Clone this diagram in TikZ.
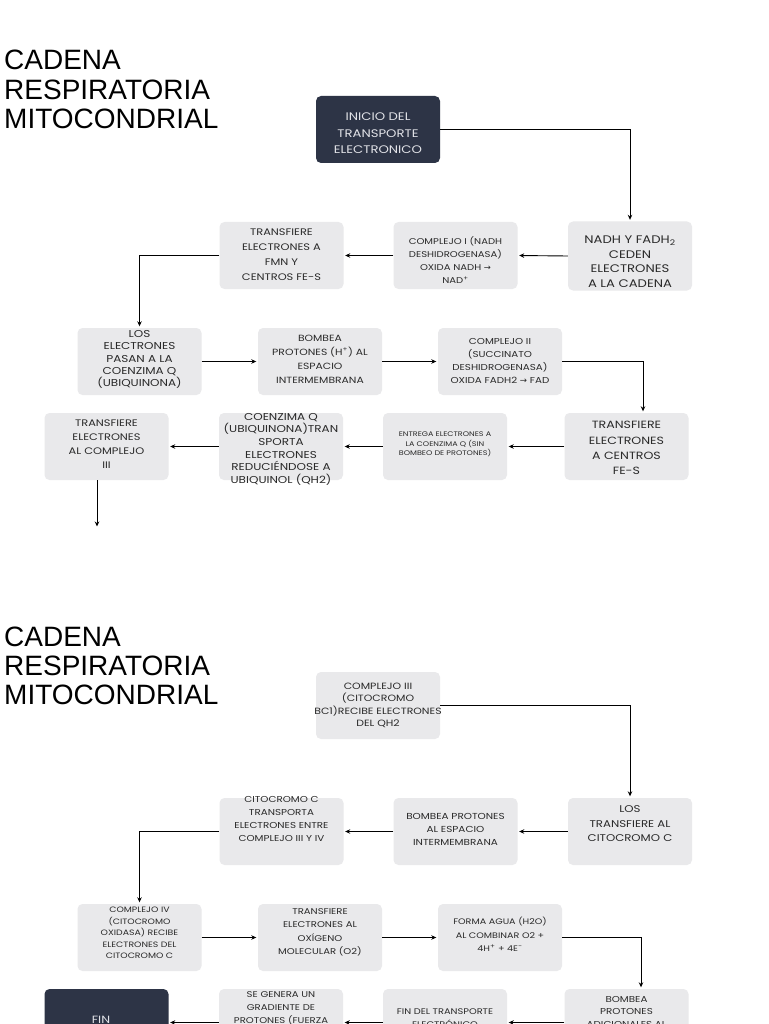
\documentclass[tikz,border=0pt]{standalone}
\usepackage{fontspec}
\setmainfont{Poppins}[FakeStretch=1.2]
\newfontfamily\ttlfont{Liberation Sans}
\newfontfamily\dvfont{DejaVu Sans}
\usetikzlibrary{arrows.meta}
\definecolor{boxgray}{HTML}{E9E9EB}
\definecolor{darkbox}{HTML}{2D3446}
\definecolor{txtgray}{HTML}{2A2A2A}
\definecolor{lighttxt}{HTML}{E2E3E8}
\newcommand\fs[2]{\fontsize{#1}{#2}\selectfont}
\newcommand\rarr{{\dvfont →}}
\newcommand\sps[1]{\textsuperscript{#1}}
\newcommand\sbs[1]{\textsubscript{#1}}
% style, name, box position, text options, text position, text
\newcommand\mybox[6]{\node[#1] (#2) at (#3) {}; \node[txt,#4] (#2t) at (#5) {#6};}
\begin{document}
\begin{tikzpicture}[x=1pt,y=-1pt,
  gbox/.style={fill=boxgray, rounded corners=5pt, minimum width=124pt, minimum height=67pt, inner sep=0pt},
  dbox/.style={gbox, fill=darkbox},
  txt/.style={align=center, inner sep=0pt, text=txtgray},
  arr/.style={-{Stealth[length=5pt,width=4.5pt]}, line width=0.9pt, shorten >=1.5pt},
  ttl/.style={anchor=base west, inner sep=0pt, font=\ttlfont\fs{28}{30}}
]
\fill[white] (0,0) rectangle (768,1024);
\useasboundingbox (0,0) rectangle (768,1024);
\clip (0,0) rectangle (768,1024);

% ---------- top section ----------
\node[ttl] (t1) at (4,70) {CADENA};
\node[ttl] (t2) at (4,99.5) {RESPIRATORIA};
\node[ttl] (t3) at (4,128.5) {MITOCONDRIAL};

\mybox{dbox}{inicio}{378,129.5}{text=lighttxt,font=\fs{11}{16.7}}{378,133.3}{INICIO DEL\\TRANSPORTE\\ELECTRONICO}
\mybox{gbox}{a}{281.5,255.5}{font=\fs{9.5}{15}}{281.5,254.2}{TRANSFIERE\\ELECTRONES A\\FMN Y\\CENTROS FE-S}
\mybox{gbox}{b}{455.5,255.5}{font=\fs{8.4}{13}}{455.5,259.7}{COMPLEJO I (NADH\\DESHIDROGENASA)\\OXIDA NADH \rarr\\NAD\sps{+}}
\node[gbox, minimum height=69pt] (c) at (630,256) {};
\node[txt,font=\fs{11}{14.5}] (ct) at (630,261.5) {NADH Y FADH\sbs{2}\\CEDEN\\ELECTRONES\\A LA CADENA};

\mybox{gbox}{d}{139.5,361.5}{font=\fs{10}{12.3}}{139.5,359.5}{LOS\\ELECTRONES\\PASAN A LA\\COENZIMA Q\\(UBIQUINONA)}
\mybox{gbox}{e}{320,361.5}{font=\fs{9}{14}}{320,359.5}{BOMBEA\\PROTONES (H\sps{+}) AL\\ESPACIO\\INTERMEMBRANA}
\mybox{gbox}{f}{500,361.5}{font=\fs{8.6}{12.8}}{500,360.8}{COMPLEJO II\\(SUCCINATO\\DESHIDROGENASA)\\OXIDA FADH2 \rarr{} FAD}

\mybox{gbox}{g}{106.5,446.5}{font=\fs{9.5}{14}}{106.5,444}{TRANSFIERE\\ELECTRONES\\AL COMPLEJO\\III}
\mybox{gbox}{h}{281,446.5}{font=\fs{10}{12.7}}{281,449.3}{COENZIMA Q\\(UBIQUINONA)TRAN\\SPORTA\\ELECTRONES\\REDUCIÉNDOSE A\\UBIQUINOL (QH2)}
\mybox{gbox}{i}{445,446.5}{font=\fs{6.7}{9.3}}{445,444.3}{ENTREGA ELECTRONES A\\LA COENZIMA Q (SIN\\BOMBEO DE PROTONES)}
\mybox{gbox}{j}{626.5,446.5}{font=\fs{10.5}{15.3}}{626.5,448}{TRANSFIERE\\ELECTRONES\\A CENTROS\\FE-S}

\draw[arr] (inicio.east) -| (c.north);
\draw[arr] (c.west) -- (b.east);
\draw[arr] (b.west) -- (a.east);
\draw[arr] (a.west) -| (d.north);
\draw[arr] (d.east) -- (e.west);
\draw[arr] (e.east) -- (f.west);
\draw[arr] (f.east) -| ([xshift=16.5pt]j.north);
\draw[arr] (j.west) -- (i.east);
\draw[arr] (i.west) -- (h.east);
\draw[arr] (h.west) -- (g.east);
\coordinate (gout) at (97,528);
\draw[arr] (g.south -| gout) -- (gout);

% ---------- bottom section ----------
\node[ttl] (b1) at (4,646) {CADENA};
\node[ttl] (b2) at (4,675.5) {RESPIRATORIA};
\node[ttl] (b3) at (4,704.5) {MITOCONDRIAL};

\mybox{gbox}{k}{378,705.5}{font=\fs{9.1}{12.5}}{378,705.5}{COMPLEJO III\\(CITOCROMO\\BC1)RECIBE ELECTRONES\\DEL QH2}
\mybox{gbox}{l}{281.5,831.5}{font=\fs{8.6}{12.8}}{281.5,819}{CITOCROMO C\\TRANSPORTA\\ELECTRONES ENTRE\\COMPLEJO III Y IV}
\mybox{gbox}{m}{455.5,831.5}{font=\fs{8.7}{13}}{455.5,829.7}{BOMBEA PROTONES\\AL ESPACIO\\INTERMEMBRANA}
\mybox{gbox}{n}{630,831.5}{font=\fs{9.8}{14.5}}{630,824}{LOS\\TRANSFIERE AL\\CITOCROMO C}

\mybox{gbox}{o}{139.5,937.5}{font=\fs{7.8}{11.4}}{139.5,933}{COMPLEJO IV\\(CITOCROMO\\OXIDASA) RECIBE\\ELECTRONES DEL\\CITOCROMO C}
\mybox{gbox}{p}{320,937.5}{font=\fs{8.4}{13.4}}{320,932.5}{TRANSFIERE\\ELECTRONES AL\\OXÍGENO\\MOLECULAR (O2)}
\mybox{gbox}{q}{500,937.5}{font=\fs{8}{13.2}}{500,934.3}{FORMA AGUA (H2O)\\AL COMBINAR O2 +\\4H\sps{+} + 4E\sps{−}}

\mybox{dbox}{r}{106.5,1022.5}{text=lighttxt,font=\fs{10.5}{15}}{101,1020}{FIN}
\mybox{gbox}{s}{281,1022.5}{font=\fs{8.4}{13},anchor=north}{281,991.5}{SE GENERA UN\\GRADIENTE DE\\PROTONES (FUERZA}
\mybox{gbox}{t}{445,1022.5}{font=\fs{8.2}{12.5},anchor=north}{445,1008.5}{FIN DEL TRANSPORTE\\ELECTRÓNICO}
\mybox{gbox}{u}{626.5,1022.5}{font=\fs{8.6}{12.5},anchor=north}{626.5,996}{BOMBEA\\PROTONES\\ADICIONALES AL}

\draw[arr] (k.east) -| (n.north);
\draw[arr] (n.west) -- (m.east);
\draw[arr] (m.west) -- (l.east);
\draw[arr] (l.west) -| (o.north);
\draw[arr] (o.east) -- (p.west);
\draw[arr] (p.east) -- (q.west);
\draw[arr] (q.east) -| ([xshift=14.5pt]u.north);
\draw[arr] (u.west) -- (t.east);
\draw[arr] (t.west) -- (s.east);
\draw[arr] (s.west) -- (r.east);
\end{tikzpicture}
\end{document}
